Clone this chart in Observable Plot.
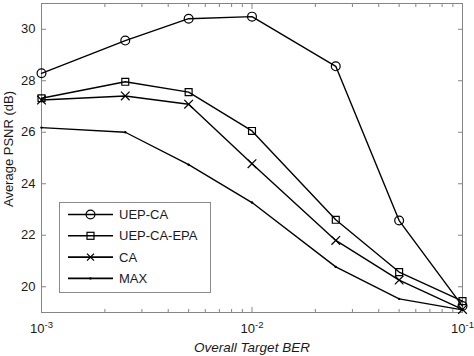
<!DOCTYPE html>
<html><head><meta charset="utf-8">
<script src="https://cdn.jsdelivr.net/npm/d3@7"></script>
<script src="https://cdn.jsdelivr.net/npm/@observablehq/plot@0.6"></script>
<style>
body{margin:0;background:#fff;}
#wrap{position:relative;width:474px;height:356px;font-family:"Liberation Sans",Arial,sans-serif;}
#legend{position:absolute;left:59px;top:202px;width:152px;height:91px;border:1px solid #8a8a8a;background:#fff;box-sizing:border-box;}
</style></head><body><div id="wrap"><div id="legend"></div></div>
<script>
const ber = [0.001, 0.0025, 0.005, 0.01, 0.025, 0.05, 0.1];
const uepCA = [28.29, 29.56, 30.41, 30.49, 28.56, 22.57, 19.25];
const uepCAEPA = [27.32, 27.96, 27.56, 26.05, 22.6, 20.57, 19.44];
const ca = [27.25, 27.41, 27.09, 24.78, 21.8, 20.26, 19.12];
const maxS = [26.18, 26.0, 24.74, 23.27, 20.77, 19.53, 19.1];
const seriesNames = ["UEP-CA", "UEP-CA-EPA", "CA", "MAX"];
const seriesSymbols = ["circle", "square", "times", "point"];
const yTicks = [20, 22, 24, 26, 28, 30];
const xMajor = [0.001, 0.01, 0.1];
const xMajorLabels = ["10^-3", "10^-2", "10^-1"];
const xMinor = [0.002, 0.003, 0.004, 0.005, 0.006, 0.007, 0.008, 0.009,
                0.02, 0.03, 0.04, 0.05, 0.06, 0.07, 0.08, 0.09];
const xTitle = "Overall Target BER";
const yTitle = "Average PSNR (dB)";

const seriesValues = [uepCA, uepCAEPA, ca, maxS];
const rows = [];
seriesNames.forEach((name, i) => ber.forEach((b, j) => rows.push({name, sym: seriesSymbols[i], x: b, y: seriesValues[i][j]})));
const bySym = s => rows.filter(r => r.sym === s);
const frameColor = "#858585";
const textColor = "#1a1a1a";

const chart = Plot.plot({
  width: 474, height: 356,
  marginLeft: 41, marginRight: 12, marginTop: 3, marginBottom: 44,
  style: {fontFamily: '"Liberation Sans", Arial, sans-serif', fontSize: "13px", color: textColor, background: "#fff"},
  x: {type: "log", domain: [0.001, 0.1], axis: null},
  y: {domain: [19, 31], axis: null},
  marks: [
    Plot.frame({stroke: frameColor}),
    Plot.axisY(yTicks, {anchor: "left", tickSize: -5, fill: "none", stroke: frameColor, label: null}),
    Plot.axisY(yTicks, {anchor: "right", tickSize: -5, fill: "none", stroke: frameColor, label: null}),
    Plot.axisX(xMajor, {anchor: "bottom", tickSize: -5, fill: "none", stroke: frameColor, label: null}),
    Plot.axisX(xMajor, {anchor: "top", tickSize: -5, fill: "none", stroke: frameColor, label: null}),
    Plot.axisX(xMinor, {anchor: "bottom", tickSize: -3, fill: "none", stroke: frameColor, label: null}),
    Plot.axisX(xMinor, {anchor: "top", tickSize: -3, fill: "none", stroke: frameColor, label: null}),
    Plot.axisY(yTicks, {anchor: "left", tickSize: 0, tickPadding: 6, stroke: "none", fill: textColor, fontSize: 13, label: null}),
    Plot.axisX(xMajor, {anchor: "bottom", tickSize: 0, tickPadding: 11, stroke: "none", fill: textColor, fontSize: 13, label: null,
      tickFormat: d => xMajorLabels[xMajor.indexOf(d)]}),
    ...seriesNames.map(n => Plot.line(rows.filter(r => r.name === n), {x: "x", y: "y", stroke: "#000", strokeWidth: 1.4})),
    Plot.dot(bySym("circle"), {x: "x", y: "y", symbol: "circle", r: 4.4, stroke: "#000", strokeWidth: 1.2, fill: "none"}),
    Plot.dot(bySym("square"), {x: "x", y: "y", symbol: "square", r: 3.9, stroke: "#000", strokeWidth: 1.2, fill: "none"}),
    Plot.dot(bySym("times"), {x: "x", y: "y", symbol: "times", r: 4, stroke: "#000", strokeWidth: 1.2, fill: "none"}),
    Plot.dot(bySym("point"), {x: "x", y: "y", symbol: "circle", r: 1.2, fill: "#000", stroke: "none"}),
    Plot.text([xTitle], {frameAnchor: "bottom", textAnchor: "middle", lineAnchor: "middle", dy: 35, fontStyle: "italic", fontSize: 13.5, fill: textColor}),
    Plot.text([yTitle], {frameAnchor: "left", textAnchor: "middle", lineAnchor: "middle", rotate: -90, dx: -33, dy: -9, fontSize: 13, fill: textColor})
  ]
});
document.getElementById("wrap").prepend(chart);

// superscript tick labels
d3.select(chart).selectAll('[aria-label="x-axis tick label"] text').each(function() {
  const t = d3.select(this);
  const s = t.text();
  if (s.includes("^")) {
    const [base, exp] = s.split("^");
    t.text(null);
    t.append("tspan").text(base);
    t.append("tspan").attr("dy", "-0.55em").attr("font-size", "9.5px").text(exp);
  }
});

// legend
const lg = d3.select("#legend").append("svg").attr("width", 150).attr("height", 89)
  .style("position", "absolute").style("left", "0").style("top", "0");
seriesNames.forEach((n, i) => {
  const cy = 11.5 + i * 21.3;
  const g = lg.append("g");
  g.append("line").attr("x1", 8).attr("x2", 53).attr("y1", cy).attr("y2", cy).attr("stroke", "#000").attr("stroke-width", 1.6);
  const sym = seriesSymbols[i];
  if (sym === "circle") g.append("circle").attr("cx", 30.5).attr("cy", cy).attr("r", 4.4).attr("fill", "none").attr("stroke", "#000").attr("stroke-width", 1.2);
  if (sym === "square") g.append("rect").attr("x", 27).attr("y", cy - 3.5).attr("width", 7).attr("height", 7).attr("fill", "none").attr("stroke", "#000").attr("stroke-width", 1.2);
  if (sym === "times") g.append("path").attr("d", `M27,${cy-3.5}L34,${cy+3.5}M27,${cy+3.5}L34,${cy-3.5}`).attr("stroke", "#000").attr("stroke-width", 1.3);
  if (sym === "point") g.append("circle").attr("cx", 30.5).attr("cy", cy).attr("r", 1.2).attr("fill", "#000");
  g.append("text").attr("x", 59).attr("y", cy).attr("dy", "0.36em").attr("font-size", 13).attr("fill", textColor)
    .attr("font-family", '"Liberation Sans", Arial, sans-serif').text(n);
});
</script>
</body></html>
